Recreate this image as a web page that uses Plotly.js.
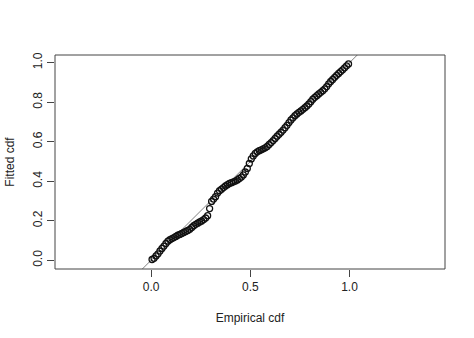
<!DOCTYPE html>
<html>
<head>
<meta charset="utf-8">
<script src="https://cdn.plot.ly/plotly-3.0.1.min.js"></script>
<style>html,body{margin:0;padding:0;background:#fff;}#chart{width:474px;height:338px;}</style>
</head>
<body>
<div id="chart"></div>
<script>
// Empirical cdf (x) and fitted cdf (y)
var empiricalCdf = [
0.005,0.015,0.025,0.035,0.045,0.055,0.065,0.075,0.085,0.095,
0.105,0.115,0.125,0.135,0.145,0.155,0.165,0.175,0.185,0.195,
0.205,0.215,0.225,0.235,0.245,0.255,0.265,0.275,0.285,0.295,
0.305,0.315,0.325,0.335,0.345,0.355,0.365,0.375,0.385,0.395,
0.405,0.415,0.425,0.435,0.445,0.455,0.465,0.475,0.485,0.495,
0.505,0.515,0.525,0.535,0.545,0.555,0.565,0.575,0.585,0.595,
0.605,0.615,0.625,0.635,0.645,0.655,0.665,0.675,0.685,0.695,
0.705,0.715,0.725,0.735,0.745,0.755,0.765,0.775,0.785,0.795,
0.805,0.815,0.825,0.835,0.845,0.855,0.865,0.875,0.885,0.895,
0.905,0.915,0.925,0.935,0.945,0.955,0.965,0.975,0.985,0.995];
var fittedCdf = [
0.004,0.010,0.022,0.033,0.047,0.060,0.072,0.085,0.097,0.104,
0.110,0.115,0.121,0.127,0.131,0.136,0.141,0.146,0.151,0.157,
0.166,0.175,0.182,0.188,0.194,0.199,0.206,0.214,0.226,0.262,
0.298,0.310,0.322,0.340,0.352,0.360,0.368,0.376,0.383,0.389,
0.393,0.397,0.401,0.407,0.414,0.421,0.432,0.447,0.465,0.490,
0.513,0.528,0.541,0.549,0.555,0.559,0.564,0.569,0.576,0.586,
0.596,0.606,0.617,0.628,0.638,0.648,0.659,0.671,0.683,0.697,
0.710,0.721,0.732,0.741,0.749,0.756,0.764,0.772,0.781,0.791,
0.803,0.815,0.825,0.833,0.842,0.850,0.858,0.868,0.879,0.893,
0.905,0.915,0.926,0.936,0.946,0.955,0.964,0.974,0.984,0.994];
var xTicks = [0, 0.5, 1];
var xTickLabels = ["0.0", "0.5", "1.0"];
var yTicks = [0, 0.2, 0.4, 0.6, 0.8, 1];
var yTickLabels = ["0.0", "0.2", "0.4", "0.6", "0.8", "1.0"];
var refIntercept = 0, refSlope = 1;

var xRange = [-0.484, 1.481];
var yRange = [-0.044, 1.039];
var refX = xRange.slice();
var refY = refX.map(function(v){ return refIntercept + refSlope * v; });

var font = "Liberation Sans, Arial, sans-serif";
var traces = [
  {x: refX, y: refY, mode: "lines", line: {color: "#808080", width: 1}, hoverinfo: "skip", showlegend: false},
  {x: empiricalCdf, y: fittedCdf, mode: "markers", showlegend: false,
   marker: {symbol: "circle-open", size: 6, color: "#111", line: {color: "#111", width: 1.3}}}
];
var layout = {
  width: 474, height: 338,
  margin: {l: 55, r: 29, t: 55, b: 69, pad: 0},
  paper_bgcolor: "#fff", plot_bgcolor: "#fff",
  font: {family: font, size: 12, color: "#222"},
  xaxis: {range: xRange, showgrid: false, zeroline: false, showline: false,
    tickmode: "array", tickvals: xTicks, ticktext: xTickLabels,
    ticks: "outside", ticklen: 7, tickwidth: 1, tickcolor: "#444",
    tickfont: {family: font, size: 12, color: "#222"},
    title: {text: "Empirical cdf", font: {family: font, size: 12, color: "#222"}, standoff: 20}},
  yaxis: {range: yRange, showgrid: false, zeroline: false, showline: false,
    tickmode: "array", tickvals: yTicks, ticktext: yTickLabels, tickangle: -90,
    ticks: "outside", ticklen: 7, tickwidth: 1, tickcolor: "#444",
    tickfont: {family: font, size: 12, color: "#222"},
    title: {text: "Fitted cdf", font: {family: font, size: 12, color: "#222"}, standoff: 14}},
  shapes: [{type: "rect", xref: "paper", yref: "paper", x0: 0, x1: 1, y0: 0, y1: 1,
    line: {color: "#444", width: 1}, fillcolor: "rgba(0,0,0,0)", layer: "above"}]
};
Plotly.newPlot("chart", traces, layout, {displayModeBar: false, staticPlot: true});
</script>
</body>
</html>
